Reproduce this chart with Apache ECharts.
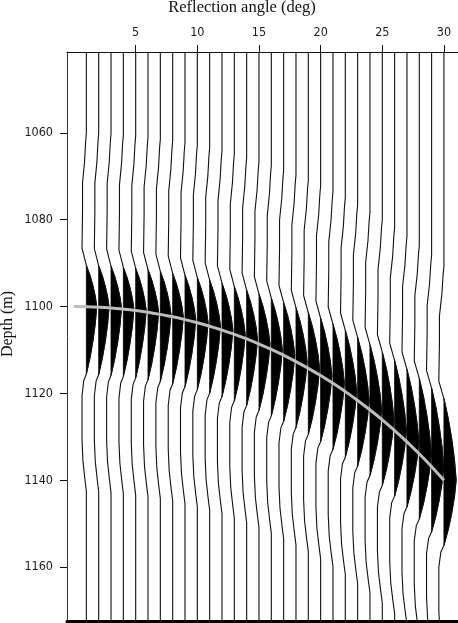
<!DOCTYPE html>
<html><head><meta charset="utf-8">
<script src="https://cdn.jsdelivr.net/npm/echarts@6/dist/echarts.min.js"></script>
<style>html,body{margin:0;padding:0;background:#fff}#c{width:458px;height:623px}</style>
</head><body><div id="c"></div>
<script>
// ---- data ----
const traceAngles = [1,2,3,4,5,6,7,8,9,10,11,12,13,14,15,16,17,18,19,20,21,22,23,24,25,26,27,28,29,30];
const curveAngles = [0,1,2,3,4,5,6,7,8,9,10,11,12,13,14,15,16,17,18,19,20,21,22,23,24,25,26,27,28,29,30];
const curveDepth = [1100.0,1100.04,1100.15,1100.33,1100.59,1100.92,1101.33,1101.81,1102.37,1103.01,1103.73,
  1104.53,1105.42,1106.40,1107.46,1108.62,1109.87,1111.22,1112.67,1114.23,1115.90,
  1117.68,1119.59,1121.62,1123.79,1126.09,1128.55,1131.15,1133.93,1136.87,1140.0];
// per-trace peak amplitude (deg of trace offset)
const traceAmp = [0.84,0.84,0.85,0.85,0.85,0.86,0.86,0.86,0.87,0.87,0.87,0.88,0.88,0.88,0.89,
  0.89,0.90,0.90,0.91,0.91,0.92,0.92,0.93,0.94,0.94,0.95,0.96,0.97,0.98,0.99];
// distance (m) from peak to upper / lower zero crossing of the filled lobe
const halfUp = [9.5,9.5,9.6,9.6,9.7,9.8,9.9,10.0,10.2,10.4,10.6,10.8,11.0,11.2,11.5,
  11.8,12.1,12.4,12.8,13.2,13.6,14.1,14.5,15.0,15.6,16.1,16.7,17.4,18.1,18.8];
const halfDown = [15.5,15.5,15.5,15.5,15.5,15.5,15.4,15.4,15.4,15.4,15.4,15.3,15.3,15.3,15.3,
  15.3,15.2,15.2,15.2,15.2,15.2,15.1,15.1,15.1,15.1,15.1,15.0,15.0,15.0,15.0];
// wavelet shape (fraction of peak amplitude)
const lobeFrac = [0, 0.25, 0.5, 0.75, 1];
const lobeVal = [0, 0.36, 0.64, 0.86, 1];
const sideUpDist = [0, 4, 12.5, 19, 24, 28.5, 30.5];
const sideUpVal = [0, -0.42, -0.37, -0.37, -0.17, -0.07, 0];
const sideDownDist = [0, 1.5, 5, 15, 20, 24, 27];
const sideDownVal = [0, -0.25, -0.42, -0.42, -0.33, -0.15, 0];
const xTicks = [5, 10, 15, 20, 25, 30];
const yTicks = [1060, 1080, 1100, 1120, 1140, 1160];

const X_MIN = -0.57, X_MAX = 31.14, Y_MIN = 1041.4, Y_MAX = 1172.4;
const LABEL_FONT = '"DejaVu Sans Condensed", "DejaVu Sans", sans-serif';
const TITLE_FONT = '"Liberation Serif", "DejaVu Serif", serif';

function tracePoints(i) {
  const a = traceAngles[i], z0 = curveDepth[a], A = traceAmp[i], hu = halfUp[i], hd = halfDown[i];
  const pts = [];
  for (let k = sideUpDist.length - 1; k >= 0; k--) pts.push([a + A * sideUpVal[k], z0 - hu - sideUpDist[k]]);
  for (let k = 1; k < lobeFrac.length; k++) pts.push([a + A * lobeVal[k], z0 - hu * (1 - lobeFrac[k])]);
  for (let k = lobeFrac.length - 2; k >= 0; k--) pts.push([a + A * lobeVal[k], z0 + hd * (1 - lobeFrac[k])]);
  for (let k = 1; k < sideDownDist.length; k++) pts.push([a + A * sideDownVal[k], z0 + hd + sideDownDist[k]]);
  if (pts[0][1] > Y_MIN) pts.unshift([a, Y_MIN]);
  if (pts[pts.length - 1][1] < Y_MAX) pts.push([a, Y_MAX]);
  const lobe = [];
  for (let k = 0; k < lobeFrac.length; k++) lobe.push([a + A * lobeVal[k], z0 - hu * (1 - lobeFrac[k])]);
  for (let k = lobeFrac.length - 2; k >= 0; k--) lobe.push([a + A * lobeVal[k], z0 + hd * (1 - lobeFrac[k])]);
  return { pts, lobe };
}

const chart = echarts.init(document.getElementById('c'), null, { renderer: 'canvas' });
chart.setOption({
  animation: false,
  backgroundColor: '#fff',
  grid: { left: 67, right: 0, top: 52, bottom: 2, containLabel: false },
  xAxis: [{
    type: 'value', position: 'top', min: X_MIN, max: X_MAX,
    axisLine: { show: true, lineStyle: { color: '#111', width: 1 } },
    axisTick: { show: true, customValues: xTicks, length: 7, inside: false, lineStyle: { color: '#111' } },
    axisLabel: { show: true, customValues: xTicks, margin: 13, fontFamily: LABEL_FONT, fontSize: 12.5, color: '#1a1a1a',
      formatter: v => String(v) },
    splitLine: { show: false }
  }, {
    type: 'value', position: 'bottom', min: X_MIN, max: X_MAX,
    axisLine: { show: true, onZero: false, lineStyle: { color: '#000', width: 3 } },
    axisTick: { show: false }, axisLabel: { show: false }, splitLine: { show: false }
  }],
  yAxis: {
    type: 'value', inverse: true, min: Y_MIN, max: Y_MAX,
    axisLine: { show: true, onZero: false, lineStyle: { color: '#333', width: 1 } },
    axisTick: { show: true, customValues: yTicks, length: 7, lineStyle: { color: '#111' } },
    axisLabel: { show: true, customValues: yTicks, margin: 14, fontFamily: LABEL_FONT, fontSize: 12.5, color: '#1a1a1a',
      formatter: v => String(v) },
    splitLine: { show: false }
  },
  graphic: [
    { type: 'text', x: 242, y: 8, style: { text: 'Reflection angle (deg)', font: '16.5px ' + TITLE_FONT, fill: '#111', textAlign: 'center', textVerticalAlign: 'middle', align: 'center', verticalAlign: 'middle' } },
    { type: 'text', x: 8, y: 324, rotation: Math.PI / 2, style: { text: 'Depth (m)', font: '16px ' + TITLE_FONT, fill: '#111', textAlign: 'center', textVerticalAlign: 'middle', align: 'center', verticalAlign: 'middle' } }
  ],
  series: [{
    type: 'custom',
    coordinateSystem: 'cartesian2d',
    clip: true,
    silent: true,
    encode: { x: 0, y: 1 },
    data: traceAngles.map((a, i) => [a, curveDepth[a], i]),
    renderItem: function (params, api) {
      const i = api.value(2);
      const t = tracePoints(i);
      const line = t.pts.map(p => api.coord(p));
      const poly = t.lobe.map(p => api.coord(p));
      return {
        type: 'group',
        children: [
          { type: 'polygon', shape: { points: poly }, style: { fill: '#000', stroke: '#000', lineWidth: 0.8 } },
          { type: 'polyline', shape: { points: line }, style: { fill: null, stroke: '#111', lineWidth: 1.1 } }
        ]
      };
    },
    z: 2
  }, {
    type: 'line',
    data: curveAngles.map((a, k) => [a, curveDepth[k]]),
    symbol: 'none', smooth: true, silent: true,
    lineStyle: { color: '#bdbdbd', width: 3 },
    z: 5
  }]
});
</script></body></html>
